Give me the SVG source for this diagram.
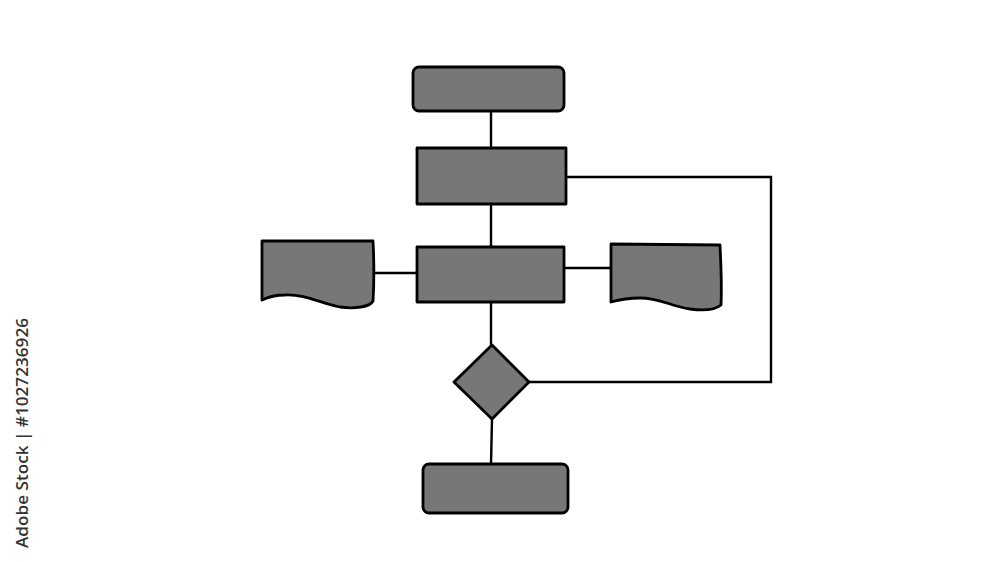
<svg xmlns="http://www.w3.org/2000/svg" width="1000" height="562" viewBox="0 0 1000 562">
<style>
.shape{fill:#777777;stroke:#000;stroke-width:2.8;stroke-linejoin:round}
.conn{fill:none;stroke:#000;stroke-width:2.4}
.wm{font-family:"Open Sans","Noto Sans",sans-serif;font-size:17px;font-weight:600;fill:#333333}
</style>
<rect width="1000" height="562" fill="#ffffff"/>
<g id="connectors">
<line class="conn" x1="491" y1="111" x2="491" y2="148"/>
<line class="conn" x1="491" y1="204" x2="491" y2="247"/>
<line class="conn" x1="491" y1="302" x2="491" y2="345"/>
<line class="conn" x1="492" y1="419" x2="491" y2="464"/>
<line class="conn" x1="374" y1="273" x2="417" y2="273"/>
<line class="conn" x1="564" y1="268" x2="611" y2="268"/>
<polyline class="conn" points="566,177 771,177 771,382 529,382"/>
</g>
<g id="start"><rect class="shape" x="413" y="67" width="151" height="44" rx="6"/></g>
<g id="process1"><rect class="shape" x="417" y="148" width="149" height="56"/></g>
<g id="process2"><rect class="shape" x="417" y="247" width="147" height="55"/></g>
<g id="doc-left"><path class="shape" d="M262,241 L373,241 C374,260 374,285 373,301 C370,307 355,309 340,307 C320,303 305,294 285,295 C275,295 266,298 262,300 Z"/></g>
<g id="doc-right"><path class="shape" d="M611,244 L720,245 C721,265 722,285 721,305 C715,310 705,311 690,309 C670,306 660,298 640,298 C628,298 618,300 611,302 Z"/></g>
<g id="decision"><polygon class="shape" points="492,345 529,382 492,419 454,382"/></g>
<g id="end"><rect class="shape" x="423" y="464" width="145" height="49" rx="6"/></g>
<text class="wm" transform="translate(28,548) rotate(-90)" textLength="230" lengthAdjust="spacingAndGlyphs">Adobe Stock | #1027236926</text>
</svg>
